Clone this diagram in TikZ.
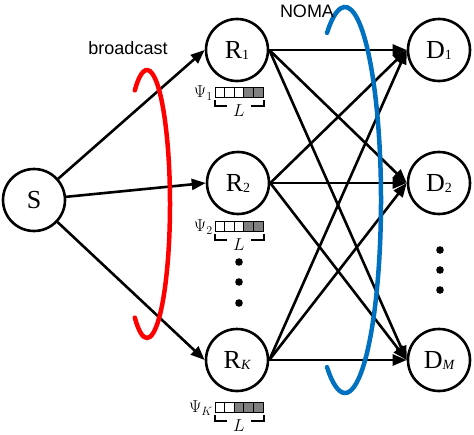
\documentclass[tikz,border=0pt]{standalone}
\usepackage{fontspec}
\setmainfont{Liberation Serif}
\setsansfont{Liberation Sans}
\usetikzlibrary{arrows.meta}
\definecolor{nomablue}{RGB}{0,112,192}
\definecolor{cellgray}{RGB}{128,128,128}
\newcommand\sbs[1]{\raisebox{-1pt}{\fontsize{14}{14}\selectfont #1}}
\begin{document}
\begin{tikzpicture}[x=1pt,y=1pt,
  nd/.style={circle,draw,line width=2.6pt,minimum size=62pt,inner sep=0pt,font=\fontsize{26}{26}\selectfont},
  arr/.style={line width=2.6pt,-{Triangle[length=14pt,width=11pt]}},
  cell/.style={draw,line width=0.9pt},
  gcell/.style={cell,fill=cellgray},
  brk/.style={line width=1.3pt},
  dot/.style={fill=black},
  buflabel/.style={anchor=east,inner sep=0pt,font=\fontsize{17}{17}\selectfont},
  lenlabel/.style={inner sep=0pt,font=\fontsize{18}{18}\selectfont},
  ring/.style={line width=4.5pt,line cap=round},
  txt/.style={font=\sffamily\fontsize{18}{18}\selectfont,inner sep=0pt}]
\useasboundingbox (0,0) rectangle (474,-434);

% nodes
\node[nd] (S)  at (34,-200) {S};
\node[nd] (R1) at (237,-50) {R\sbs{1}};
\node[nd] (R2) at (238,-183) {R\sbs{2}};
\node[nd] (RK) at (237,-360) {R\sbs{\itshape K}};
\node[nd] (D1) at (439,-50) {D\sbs{1}};
\node[nd] (D2) at (439,-183) {D\sbs{2}};
\node[nd] (DM) at (439,-360) {D\sbs{\itshape M}};

% arrows S -> R
\draw[arr] (S) -- (R1.west);
\draw[arr] (S) -- (R2.west);
\draw[arr] (S) -- (RK.west);

% arrows R -> D
\foreach \r in {R1,R2,RK}{
  \foreach \d in {D1,D2,DM}{
    \draw[arr] (\r.east) -- (\d.west);
  }
}

% dots
\foreach \y in {262,282,303}{\fill[dot] (239,-\y) circle (3.8);}
\foreach \y in {250,270,290}{\fill[dot] (440,-\y) circle (3.8);}

% buffers
\foreach \n/\yy/\w/\lab in {b1/87/3/1, b2/221/3/2, bK/402/2/K}{
  \begin{scope}[shift={(215,-\yy)}]
    \foreach \i in {0,...,4}{
      \ifnum\i<\w
        \draw[cell] (\i*9.6,0) rectangle ++(9.6,-10.5);
      \else
        \draw[gcell] (\i*9.6,0) rectangle ++(9.6,-10.5);
      \fi
    }
    \draw[brk] (0,-13) -- (0,-19) -- (12,-19);
    \draw[brk] (36,-19) -- (49,-19) -- (49,-13);
    \node[lenlabel] (L\n) at (24,-24) {$L$};
    \node[buflabel] (P\n) at (-2,-6) {$\Psi_{\lab}$};
  \end{scope}
}

% rings
\draw[ring,red] (147,-204) ++(122:23 and 134) arc[start angle=122,end angle=-122,x radius=23,y radius=134];
\draw[ring,nomablue] (345,-200) ++(120:36 and 193) arc[start angle=120,end angle=-120,x radius=36,y radius=193];

% texts
\node[txt] (bc) at (128,-48) {broadcast};
\node[txt] (noma) at (307,-11) {NOMA};
\end{tikzpicture}
\end{document}
